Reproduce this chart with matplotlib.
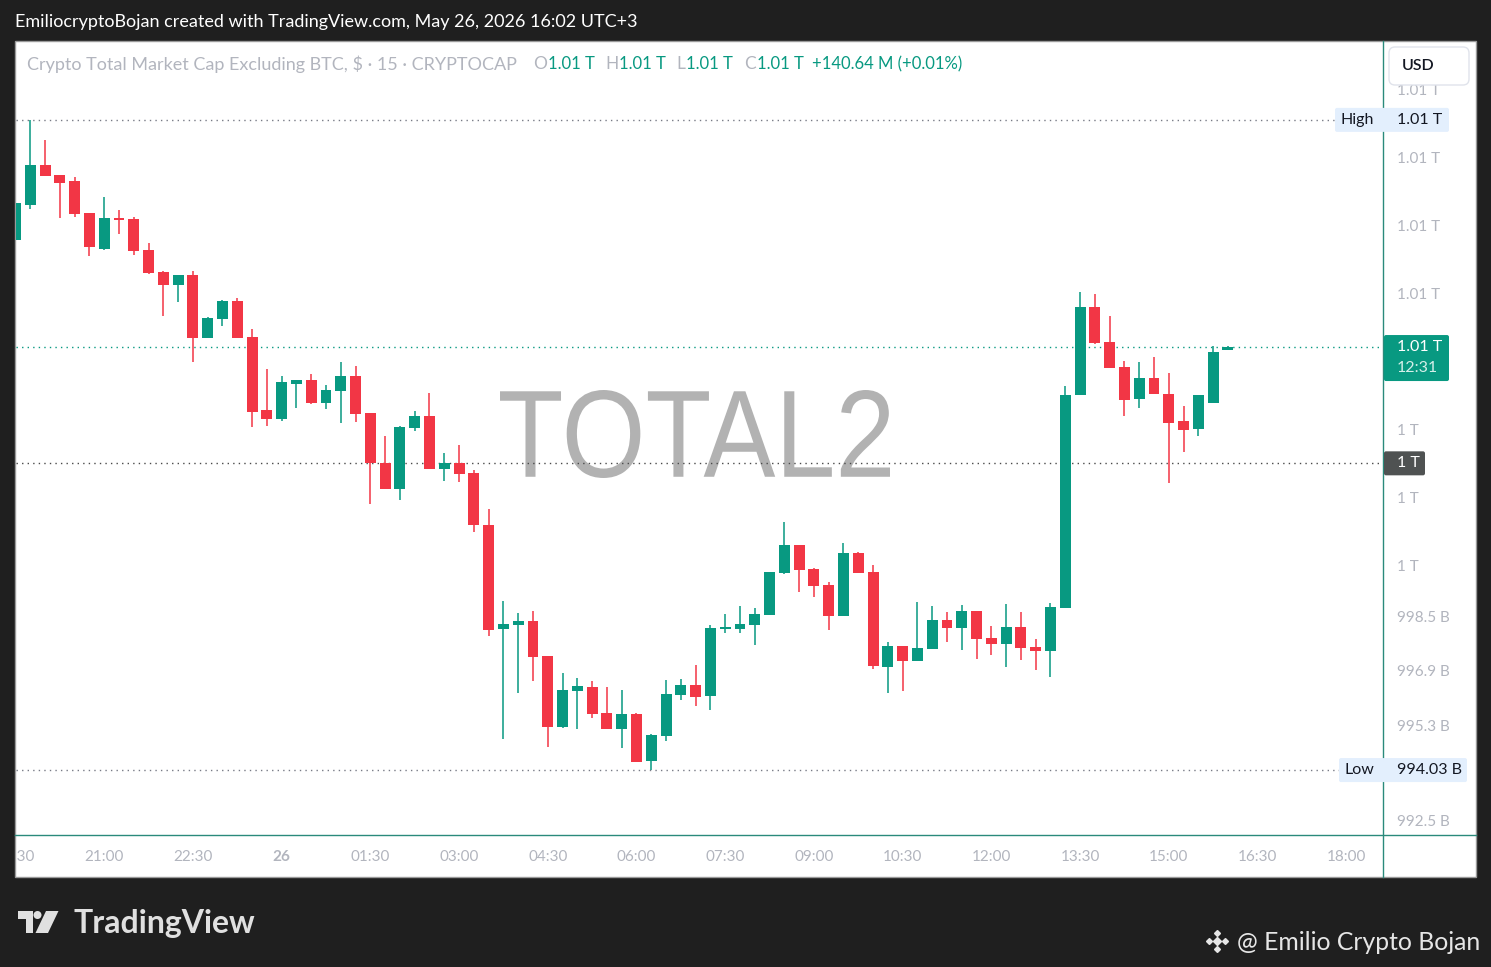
import matplotlib
matplotlib.use("Agg")
import matplotlib.pyplot as plt
import numpy as np
from matplotlib.patches import Rectangle, FancyBboxPatch, PathPatch, Polygon, Circle
from matplotlib.lines import Line2D
from matplotlib.textpath import TextPath
from matplotlib.font_manager import FontProperties
from matplotlib.transforms import Affine2D, Bbox, TransformedBbox

plt.rcParams['font.family'] = ['Lato', 'DejaVu Sans']

W, H = 1491, 967

# TOTAL2, 15 min candles, 25 May 19:30 -> 26 May 16:00, prices in billions USD
opens = [1009.63, 1010.66, 1011.82, 1011.53, 1011.35, 1010.41, 1009.36, 1010.27, 1010.24, 1009.32,
         1008.68, 1008.30, 1008.59, 1006.74, 1007.30, 1007.82, 1006.77, 1004.62, 1004.36, 1005.39,
         1005.50, 1004.83, 1005.19, 1005.62, 1004.53, 1003.05, 1002.30, 1004.10, 1004.44, 1002.89,
         1003.05, 1002.77, 1001.24, 998.19, 998.30, 998.41, 997.38, 995.30, 996.36, 996.47,
         995.71, 995.25, 995.68, 994.30, 995.04, 996.25, 996.53, 996.22, 998.19, 998.19,
         998.30, 998.60, 999.83, 1000.65, 999.94, 999.47, 998.57, 1000.41, 999.85, 997.07,
         997.68, 997.25, 997.60, 998.44, 998.22, 998.71, 997.91, 997.74, 998.24, 997.65,
         997.54, 998.80, 1005.07, 1007.65, 1006.62, 1005.88, 1004.95, 1005.56, 1005.09, 1004.30,
         1004.07, 1004.83, 1006.39]
highs = [1010.71, 1013.15, 1012.56, 1011.53, 1011.47, 1010.41, 1010.88, 1010.50, 1010.29, 1009.53,
         1008.71, 1008.59, 1008.71, 1007.35, 1007.85, 1007.91, 1007.00, 1005.83, 1005.62, 1005.50,
         1005.68, 1005.35, 1006.03, 1005.91, 1004.53, 1003.85, 1004.15, 1004.59, 1005.12, 1003.35,
         1003.59, 1002.85, 1001.71, 999.00, 998.65, 998.71, 997.38, 996.88, 996.74, 996.65,
         996.47, 996.38, 995.71, 995.09, 996.68, 996.71, 997.12, 998.29, 998.62, 998.85,
         998.79, 999.85, 1001.32, 1000.65, 999.97, 999.56, 1000.71, 1000.44, 1000.06, 997.79,
         997.68, 998.97, 998.85, 998.68, 998.88, 998.71, 998.27, 998.91, 998.68, 997.88,
         998.94, 1005.32, 1008.09, 1008.03, 1007.38, 1006.06, 1006.03, 1006.18, 1005.71, 1004.74,
         1005.06, 1006.50, 1006.50]
lows = [1009.51, 1010.54, 1011.51, 1010.27, 1010.30, 1009.16, 1009.33, 1009.80, 1009.19, 1008.63,
        1007.39, 1007.80, 1006.04, 1006.74, 1007.10, 1006.74, 1004.13, 1004.16, 1004.30, 1004.69,
        1004.80, 1004.66, 1004.24, 1004.27, 1001.86, 1002.30, 1001.98, 1004.01, 1002.89, 1002.54,
        1002.51, 1001.04, 997.98, 994.95, 996.30, 996.66, 994.72, 995.27, 995.25, 995.57,
        995.25, 994.69, 994.27, 994.03, 994.89, 996.10, 995.92, 995.80, 998.07, 998.07,
        997.72, 998.60, 999.80, 999.27, 999.13, 998.16, 998.57, 999.83, 997.01, 996.30,
        996.36, 997.25, 997.60, 997.80, 997.57, 997.30, 997.42, 997.07, 997.27, 996.98,
        996.77, 998.80, 1005.07, 1006.57, 1005.86, 1004.45, 1004.69, 1005.10, 1002.48, 1003.39,
        1003.86, 1004.83, 1006.39]
closes = [1010.71, 1011.82, 1011.51, 1011.30, 1010.39, 1009.42, 1010.27, 1010.22, 1009.30, 1008.66,
          1008.30, 1008.59, 1006.74, 1007.32, 1007.82, 1006.74, 1004.57, 1004.36, 1005.44, 1005.50,
          1004.83, 1005.21, 1005.62, 1004.51, 1003.05, 1002.30, 1004.12, 1004.44, 1002.89, 1003.05,
          1002.74, 1001.24, 998.16, 998.32, 998.41, 997.36, 995.30, 996.38, 996.50, 995.69,
          995.25, 995.68, 994.27, 995.06, 996.27, 996.53, 996.19, 998.21, 998.22, 998.32,
          998.62, 999.85, 1000.65, 999.92, 999.45, 998.57, 1000.41, 999.83, 997.10, 997.68,
          997.25, 997.62, 998.44, 998.22, 998.71, 997.89, 997.74, 998.24, 997.63, 997.54,
          998.82, 1005.06, 1007.65, 1006.60, 1005.86, 1004.92, 1005.56, 1005.10, 1004.24, 1004.04,
          1005.06, 1006.32, 1006.47]

time_labels = ['19:30', '21:00', '22:30', '26', '01:30', '03:00', '04:30', '06:00',
               '07:30', '09:00', '10:30', '12:00', '13:30', '15:00', '16:30', '18:00']
bars_per_label = 6

price_ticks = [1014, 1012, 1010, 1008, 1004, 1002, 1000, 998.5, 996.9, 995.3, 992.5]
price_labels = ['1.01 T', '1.01 T', '1.01 T', '1.01 T', '1 T', '1 T', '1 T',
                '998.5 B', '996.9 B', '995.3 B', '992.5 B']

ohlc_letters = ['O', 'H', 'L', 'C']
ohlc_values = ['1.01 T', '1.01 T', '1.01 T', '1.01 T']
change_text = '+140.64 M (+0.01%)'

high_price = max(highs)
low_price = min(lows)
level_price = 1003.05     # horizontal level shown as "1 T"
last_price = closes[-1]

UP = '#089981'
DOWN = '#f23645'
BG = '#1f1f1f'
AXIS_TXT = '#b2b5be'
SEP = '#2a8a7b'

fig = plt.figure(figsize=(W / 100, H / 100), dpi=100, facecolor=BG)
PX = Affine2D().scale(1 / W, -1 / H).translate(0, 1) + fig.transFigure  # top-left pixel coords

# white chart panel
fig.add_artist(Rectangle((15, 41), 1461, 836, transform=PX, facecolor='white',
                         edgecolor='#9a9a9a', lw=1, zorder=-3))

ax = fig.add_axes([16 / W, 1 - 835 / H, (1383 - 16) / W, (835 - 41) / H])
ax.set_facecolor('none')
ax.set_zorder(1)
ax.set_xlim(0.034, 92.49)
ax.set_ylim(992.12, 1015.47)
ax.set_axis_off()

x = np.arange(len(opens))
o = np.array(opens); c = np.array(closes)
colors = np.where(c >= o, UP, DOWN)
ax.vlines(x, lows, highs, colors=colors, lw=1.1, zorder=3)
body_bottom = np.minimum(o, c)
body_h = np.maximum(np.abs(c - o), 0.05)
ax.bar(x, body_h, bottom=body_bottom, width=0.74, color=colors, lw=0, zorder=4)

# dotted level lines
ax.axhline(high_price, color='#787b86', ls=(0, (1, 3)), lw=1, zorder=2)
ax.axhline(low_price, color='#787b86', ls=(0, (1, 3)), lw=1, zorder=2)
ax.axhline(level_price, color='#4a4a4a', ls=(0, (1, 3)), lw=1, zorder=2)
ax.axhline(last_price, color=UP, ls=(0, (1, 3)), lw=1, zorder=2)

fig.canvas.draw()
renderer = fig.canvas.get_renderer()


def ypx(p):
    return H - ax.transData.transform((0, p))[1]


def xpx(i):
    return ax.transData.transform((i, 0))[0]


# watermark
tp = TextPath((0, 0), "TOTAL2", size=100, prop=FontProperties(family='Liberation Sans'))
bb = tp.get_extents()
wm_tr = (Affine2D().translate(-bb.x0, -bb.y0).scale(390 / bb.width, -88 / bb.height)
         .translate(500, 478) + PX)
fig.add_artist(PathPatch(tp, transform=wm_tr, facecolor='#b2b2b2', lw=0, zorder=-2))

# separators
fig.add_artist(Line2D([1383, 1383], [41, 877], transform=PX, color=SEP, lw=1))
fig.add_artist(Line2D([15, 1476], [835, 835], transform=PX, color=SEP, lw=1))

# price axis labels
for p, lab in zip(price_ticks, price_labels):
    fig.text(1397, ypx(p), lab, transform=PX, color=AXIS_TXT, fontsize=11,
             ha='left', va='center')

# time axis labels (the first one is cut by the panel edge, as on the chart)
clip = TransformedBbox(Bbox([[16 / W, 0], [1383 / W, 1]]), fig.transFigure)
for k, lab in enumerate(time_labels):
    t = fig.text(xpx(k * bars_per_label), 857, lab, transform=PX, color=AXIS_TXT,
                 fontsize=11, ha='center', va='center',
                 fontweight='bold' if lab == '26' else 'normal')
    t.set_clip_box(clip)
    t.set_clip_on(True)


def box(x0, y0, x1, y1, color, ec='none', r=2, z=5):
    fig.add_artist(FancyBboxPatch((x0, y0), x1 - x0, y1 - y0, transform=PX,
                                  boxstyle=f'round,pad=0,rounding_size={r}',
                                  facecolor=color, edgecolor=ec, lw=1, zorder=z))


# USD button
box(1389, 47, 1469, 85, 'white', ec='#e0e3eb', r=6)
fig.text(1418, 66, 'USD', transform=PX, color='#131722', fontsize=11.5, ha='center',
         va='center', zorder=6, fontweight='semibold')

# high / low labels
yh = ypx(high_price)
box(1335, yh - 12, 1449, yh + 12, '#e3effd')
fig.text(1341, yh, 'High', transform=PX, color='#131722', fontsize=11.5, va='center', zorder=6)
fig.text(1397, yh, '1.01 T', transform=PX, color='#131722', fontsize=11.5, va='center', zorder=6)
yl = ypx(low_price)
box(1339, yl - 12, 1467, yl + 12, '#e3effd')
fig.text(1344, yl, 'Low', transform=PX, color='#131722', fontsize=11.5, va='center', zorder=6)
fig.text(1397, yl, '994.03 B', transform=PX, color='#131722', fontsize=11.5, va='center', zorder=6)

# level label
yv = ypx(level_price)
box(1384, yv - 12, 1425, yv + 12, '#4f5252')
fig.text(1397, yv, '1 T', transform=PX, color='white', fontsize=11.5, va='center', zorder=6)

# last price label
yc = ypx(last_price)
box(1384, yc - 12, 1449, yc + 34, UP)
fig.text(1397, yc, '1.01 T', transform=PX, color='white', fontsize=11.5, va='center', zorder=6)
fig.text(1397, yc + 21, '12:31', transform=PX, color='#d5efe9', fontsize=11.5, va='center', zorder=6)

# header
fig.text(15, 22, 'EmiliocryptoBojan created with TradingView.com, May 26, 2026 16:02 UTC+3',
         transform=PX, color='white', fontsize=13, va='center')

legend_y = 64
fig.text(27, legend_y, 'Crypto Total Market Cap Excluding BTC, $ · 15 · CRYPTOCAP',
         transform=PX, color=AXIS_TXT, fontsize=13, va='center')
for lx, letter, val in zip([533, 605, 676, 744], ohlc_letters, ohlc_values):
    lt = fig.text(lx, legend_y, letter, transform=PX, color=AXIS_TXT, fontsize=12.5,
                  va='center')
    lw_px = lt.get_window_extent(renderer).width
    fig.text(lx + lw_px + 1, legend_y, val, transform=PX, color=UP, fontsize=12,
             va='center')
fig.text(812, legend_y, change_text, transform=PX, color=UP, fontsize=12, va='center')

# TradingView logo
LOGO = '#e0e0e0'
fig.add_artist(Polygon([(18, 911), (33, 911), (33, 933), (26, 933), (26, 919), (18, 919)],
                       closed=True, transform=PX, facecolor=LOGO, lw=0))
fig.add_artist(Circle((37.5, 915), 4, transform=PX, facecolor=LOGO, lw=0))
fig.add_artist(Polygon([(46, 911), (58.5, 911), (48, 933), (35.5, 933)],
                       closed=True, transform=PX, facecolor=LOGO, lw=0))
fig.text(73, 933, 'TradingView', transform=PX, color=LOGO, fontsize=23,
         fontweight='bold', va='baseline')

# author tag
for dx, dy, ms in [(0, 0, 4), (-8, 0, 3), (8, 0, 3), (0, -8, 3), (0, 8, 3)]:
    fig.add_artist(Line2D([1217 + dx], [941 + dy], transform=PX, marker='D', ms=ms,
                          color='#e6e6e6', ls='none'))
fig.text(1237, 950, '@ Emilio Crypto Bojan', transform=PX, color='#e6e6e6', fontsize=17.8,
         va='baseline')

fig.savefig('out.png', dpi=100, facecolor=BG)
